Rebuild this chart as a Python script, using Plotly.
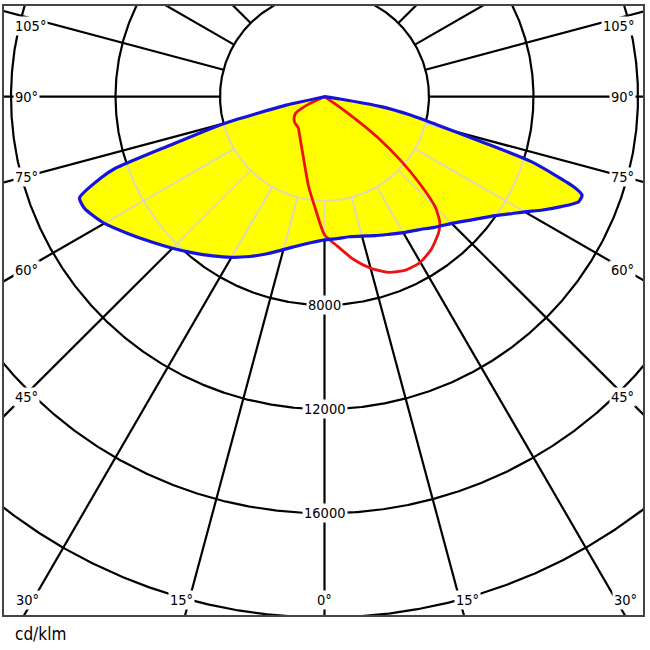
import numpy as np
import plotly.graph_objects as go

# ---------------- data (cd/klm) ----------------
# C0-C180 plane (signed gamma: negative = left half)
blue_angles = [-90, -80, -77.5, -75, -72.5, -71, -70, -67.5, -65, -62.5, -60, -55, -50, -45,
               -40, -35, -30, -25, -20, -15, -10, -5, 0, 5, 10, 15, 20, 25, 30, 35, 40,
               45, 50, 55, 57.5, 60, 62.5, 65, 67.5, 69, 70, 72.5, 74, 76, 78, 80, 81.5,
               83, 90]
blue_values = [0, 0, 1500, 4000, 6200, 8500, 9100, 10150, 10140, 9950, 9730, 9170, 8670, 8230,
               7830, 7460, 7120, 6770, 6420, 6080, 5810, 5620, 5500, 5470, 5460, 5540, 5680,
               5830, 6030, 6240, 6550, 6880, 7360, 7960, 8380, 8840, 9420, 9990, 10530,
               10560, 10190, 8300, 6200, 4400, 3300, 2200, 600, 0, 0]

# C90-C270 plane
red_angles = [-90, -70, -65, -62.5, -60, -55, -50, -45, -40, -35, -30, -25, -20, -15, -10,
              -5, 0, 5, 10, 15, 20, 25, 30, 35, 40, 42.5, 45, 47.5, 50, 52.5, 55, 57.5, 90]
red_values = [0, 0, 650, 1000, 1280, 1420, 1500, 1530, 1560, 1690, 1860, 2090, 2400, 2850,
              3500, 4250, 5300, 5770, 6340, 6820, 7180, 7350, 7340, 7140, 6800, 6530, 6000,
              4960, 3790, 2540, 900, 0, 0]

ring_values = [4000, 8000, 12000, 16000, 20000, 24000]
ring_label_values = [8000, 12000, 16000]
spoke_angles = list(range(0, 360, 15))
side_label_angles = [45, 60, 75, 90, 105]
bottom_label_angles = [0, 15, 30]
unit_label = "cd/klm"

# ---------------- geometry ----------------
W, H = 650, 650
PL, PR, PT, PB = 4, 643, 4, 615          # plot area in pixels
CX, CY = 324.5, 95                       # pole in pixels
S = 4000 / 104.5                         # cd per pixel
xmin, xmax = (PL - CX) * S, (PR - CX) * S
ymax, ymin = (CY - PT) * S, -(PB - CY) * S

FONT = "DejaVu Sans Condensed, DejaVu Sans, sans-serif"
BLACK_W = 2.2


def wrap(g):
    return (np.asarray(g, float) + 180.0) % 360.0 - 180.0


def to_xy(g, r):
    t = np.radians(g)
    return np.asarray(r) * np.sin(t), -np.asarray(r) * np.cos(t)


def r_blue(g):
    return np.interp(wrap(g), blue_angles, blue_values, left=0, right=0)


fig = go.Figure()

# black grid: rings
gx, gy = [], []
gam = np.linspace(-180, 180, 1441)
for R in ring_values:
    x, y = to_xy(gam, np.full_like(gam, R))
    gx += list(x) + [None]
    gy += list(y) + [None]
fig.add_trace(go.Scatter(x=gx, y=gy, mode="lines", line=dict(color="black", width=BLACK_W),
                         hoverinfo="skip", showlegend=False))

# black grid: spokes
sx, sy = [], []
for a in spoke_angles:
    x, y = to_xy(np.array([a, a]), np.array([4000, 40000]))
    sx += list(x) + [None]
    sy += list(y) + [None]
fig.add_trace(go.Scatter(x=sx, y=sy, mode="lines", line=dict(color="black", width=BLACK_W),
                         hoverinfo="skip", showlegend=False))

# yellow fill
bx, by = to_xy(np.array(blue_angles, float), np.array(blue_values, float))
fig.add_trace(go.Scatter(x=bx, y=by, mode="lines", fill="toself", fillcolor="#ffff00",
                         line=dict(width=0, color="#ffff00", shape="spline", smoothing=0.6),
                         hoverinfo="skip", showlegend=False))

# light grid inside the fill
lx, ly = [], []
for R in ring_values:
    rr = np.full_like(gam, R)
    x, y = to_xy(gam, rr)
    m = rr <= r_blue(gam)
    x = np.where(m, x, np.nan)
    y = np.where(m, y, np.nan)
    lx += list(x) + [np.nan]
    ly += list(y) + [np.nan]
rr = np.arange(4000, 14001, 20.0)
for a in spoke_angles:
    g = np.full_like(rr, a)
    x, y = to_xy(g, rr)
    m = rr <= r_blue(g)
    x = np.where(m, x, np.nan)
    y = np.where(m, y, np.nan)
    lx += list(x) + [np.nan]
    ly += list(y) + [np.nan]
fig.add_trace(go.Scatter(x=lx, y=ly, mode="lines", line=dict(color="rgb(224,218,172)", width=2.0),
                         hoverinfo="skip", showlegend=False, connectgaps=False))

# red curve
rx, ry = to_xy(np.array(red_angles, float), np.array(red_values, float))
fig.add_trace(go.Scatter(x=rx, y=ry, mode="lines",
                         line=dict(color="#ee1111", width=2.8, shape="spline", smoothing=0.6),
                         hoverinfo="skip", showlegend=False))
# blue curve
fig.add_trace(go.Scatter(x=list(bx) + [bx[0]], y=list(by) + [by[0]], mode="lines",
                         line=dict(color="#1414dc", width=3.2, shape="spline", smoothing=0.6),
                         hoverinfo="skip", showlegend=False))

ann = []
# ring labels
for v in ring_label_values:
    ann.append(dict(x=0, y=-v, text=str(v), showarrow=False, xanchor="center", yanchor="middle",
                    font=dict(family=FONT, size=14.5, color="black"), bgcolor="white", borderpad=1))

# angle labels on the sides
for a in side_label_angles:
    t = np.radians(a)
    for side in (-1, 1):
        if side < 0:
            xc = xmin + 19 * S
            xa, anchor = xmin + 9 * S, "left"
        else:
            xc = xmax - 17 * S
            xa, anchor = xmax - 7 * S, "right"
        yc = -abs(xc) * np.cos(t) / np.sin(t)
        yc = min(yc, ymax - 20 * S)
        ann.append(dict(x=xa, y=yc, text=f"{a}°", showarrow=False, xanchor=anchor, yanchor="middle",
                        font=dict(family=FONT, size=14.5, color="black"), bgcolor="white", borderpad=1))

# angle labels along the bottom
for a in bottom_label_angles:
    t = np.radians(a)
    yc = ymin + 15 * S
    yref_line = ymin - 15 * S
    for side in ((-1, 1) if a else (1,)):
        xc = side * abs(yref_line) * np.tan(t)
        xc = max(min(xc, xmax - 18 * S), xmin + 23 * S)
        ann.append(dict(x=xc, y=yc, text=f"{a}°", showarrow=False, xanchor="center", yanchor="middle",
                        font=dict(family=FONT, size=14.5, color="black"), bgcolor="white", borderpad=1))

ann.append(dict(xref="paper", yref="paper", x=(13 - PL) / (PR - PL), y=(PB - 634) / (PB - PT),
                text=unit_label, showarrow=False, xanchor="left", yanchor="middle",
                font=dict(family=FONT, size=17, color="black")))

fig.update_layout(
    width=W, height=H,
    margin=dict(l=PL, r=W - PR, t=PT, b=H - PB, pad=0),
    paper_bgcolor="white", plot_bgcolor="white",
    annotations=ann,
    xaxis=dict(range=[xmin, xmax], showgrid=False, zeroline=False, showticklabels=False, ticks="",
               showline=True, mirror=True, linecolor="#444444", linewidth=1.5, fixedrange=True),
    yaxis=dict(range=[ymin, ymax], showgrid=False, zeroline=False, showticklabels=False, ticks="",
               showline=True, mirror=True, linecolor="#444444", linewidth=1.5, fixedrange=True),
)

fig.write_html("out.html", config={"displayModeBar": False},
               post_script="document.body.style.margin='0';document.body.style.padding='0';")
